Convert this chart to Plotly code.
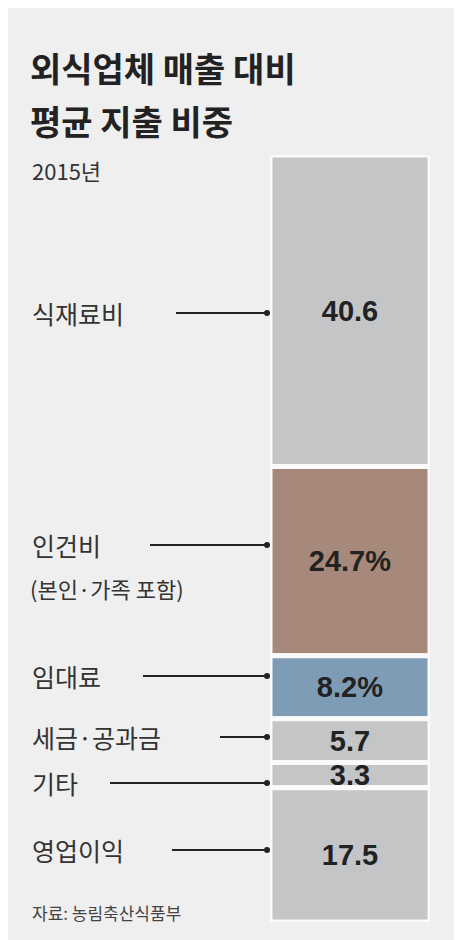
import plotly.graph_objs as go

categories = ['식재료비', '인건비', '임대료', '세금·공과금', '기타', '영업이익']
values = [40.6, 24.7, 8.2, 5.7, 3.3, 17.5]
value_labels = ['40.6', '24.7%', '8.2%', '5.7', '3.3', '17.5']
colors = ['#c4c5c7', '#a6897a', '#7f9cb6', '#c4c5c7', '#c4c5c7', '#c4c5c7']

# page body adds an 8px margin, so the figure is drawn 8px smaller and shifted
OFF = 8
W, H = 462 - OFF, 940 - OFF
BG = '#efefef'
KR = 'Noto Sans CJK KR'
NUM = 'Liberation Sans Narrow, Liberation Sans, Arial'


def py(px):
    return 1 - (px - OFF) / H


def px_x(px):
    return (px - OFF) / W


fig = go.Figure()
base = 0
for cat, val, lab, col in zip(categories, values, value_labels, colors):
    fig.add_trace(go.Bar(
        x=[0], y=[val], base=[base], width=1,
        marker=dict(color=col, line=dict(color='#fafafa', width=5)),
        text=['<b>' + lab + '</b>'], textposition='inside', insidetextanchor='middle',
        textangle=0, constraintext='none',
        textfont=dict(family=NUM, size=29, color='#222222'),
        hoverinfo='skip', showlegend=False, name=cat))
    base += val

# pixel rows of connector lines and their left ends
label_rows = [313, 545, 676, 737, 783, 850]
line_starts = [176, 150, 143, 220, 110, 172]

for row, x0, txt in zip(label_rows, line_starts, categories):
    fig.add_shape(type='line', xref='paper', yref='paper',
                  x0=px_x(x0), x1=px_x(267), y0=py(row), y1=py(row),
                  line=dict(color='#222222', width=2))
    fig.add_shape(type='circle', xref='paper', yref='paper',
                  x0=px_x(264), x1=px_x(270), y0=py(row + 3), y1=py(row - 3),
                  fillcolor='#222222', line=dict(width=0))
    fig.add_annotation(x=px_x(30), y=py(row), xref='paper', yref='paper',
                       text=txt, showarrow=False, xanchor='left', yanchor='middle',
                       font=dict(family=KR, size=25, color='#333333'))

fig.add_annotation(x=px_x(28), y=py(588), xref='paper', yref='paper',
                   text='(본인·가족 포함)', showarrow=False, xanchor='left',
                   yanchor='middle', font=dict(family=KR, size=22, color='#333333'))

for txt, row in [('외식업체 매출 대비', 68), ('평균 지출 비중', 121)]:
    fig.add_annotation(x=px_x(28), y=py(row), xref='paper', yref='paper',
                       text='<b>' + txt + '</b>', showarrow=False,
                       xanchor='left', yanchor='middle',
                       font=dict(family=KR, size=34, color='#222222'))
fig.add_annotation(x=px_x(30), y=py(170), xref='paper', yref='paper',
                   text='2015년', showarrow=False, xanchor='left', yanchor='middle',
                   font=dict(family='Liberation Sans Narrow, ' + KR, size=22, color='#333333'))
fig.add_annotation(x=px_x(30), y=py(912), xref='paper', yref='paper',
                   text='자료: 농림축산식품부', showarrow=False, xanchor='left',
                   yanchor='middle', font=dict(family=KR, size=17, color='#444444'))

fig.update_layout(
    width=W, height=H, barmode='overlay',
    paper_bgcolor=BG, plot_bgcolor=BG,
    margin=dict(l=0, r=0, t=0, b=0),
    xaxis=dict(domain=[px_x(270), px_x(430)], range=[-0.5, 0.5], visible=False,
               fixedrange=True),
    yaxis=dict(domain=[py(922), py(155)], range=[100, 0], visible=False,
               fixedrange=True),
)

fig.write_html('out.html')
